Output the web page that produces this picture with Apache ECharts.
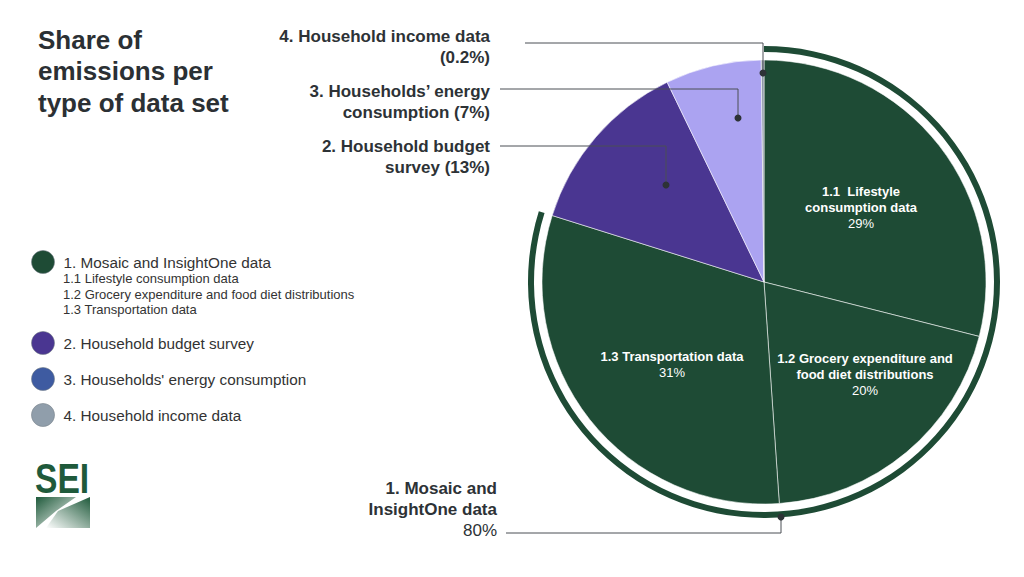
<!DOCTYPE html>
<html>
<head>
<meta charset="utf-8">
<title>Share of emissions per type of data set</title>
<script src="https://cdn.jsdelivr.net/npm/echarts@6/dist/echarts.min.js"></script>
<style>
html, body { margin: 0; padding: 0; background: #fff; }
#chart { width: 1024px; height: 577px; }
</style>
</head>
<body>
<div id="chart"></div>
<script>
// slices, clockwise from 12 o'clock
var sliceNames = ['Lifestyle consumption', 'Grocery expenditure and food diet', 'Transportation', 'Household budget survey', 'Households energy consumption', 'Household income'];
var sliceLabels = [['1.1  Lifestyle', 'consumption data'], ['1.2 Grocery expenditure and', 'food diet distributions'], ['1.3 Transportation data'], ['2. Household budget', 'survey'], ['3. Households\u2019 energy', 'consumption'], ['4. Household income data', '']];
var sliceValues = [29, 20, 31, 13, 7, 0.2];
var sliceColors = ['#1e4b35', '#1e4b35', '#1e4b35', '#4a3691', '#aba3f1', '#8e9aa6'];

var groupLabel = ['1. Mosaic and', 'InsightOne data'];
var groupCount = 3; // first three slices make up group 1

var legendNames = ['1. Mosaic and InsightOne data', '2. Household budget survey', "3. Households' energy consumption", '4. Household income data'];
var legendColors = ['#1e4b35', '#4a3691', '#3e5ba1', '#909eab'];
var legendSub = ['1.1 Lifestyle consumption data', '1.2 Grocery expenditure and food diet distributions', '1.3 Transportation data'];

var font = "'Liberation Sans', Arial, sans-serif";
var textDark = '#2d3236';

// where each label sits, and its leader line (dot first)
var labelSpots = [
    { x: 861, y: 207, align: 'center' },
    { x: 865, y: 374, align: 'center' },
    { x: 672, y: 364, align: 'center' },
    { x: 490, y: 157, align: 'right', line: [[666, 185], [666, 146], [500, 146]] },
    { x: 490, y: 102, align: 'right', line: [[738, 118], [738, 89], [500, 89]] },
    { x: 490, y: 47, align: 'right', line: [[763, 73], [763, 43], [525, 43]] }
];
var groupSpot = { x: 497, y: 509, align: 'right', line: [[781, 517], [781, 533], [506, 533]] };

var dom = document.getElementById('chart');
var chart = echarts.init(dom, null, { renderer: 'svg' });

var groupValue = 0, restValue = 0;
for (var i = 0; i < sliceValues.length; i++) {
    if (i < groupCount) groupValue += sliceValues[i];
    else restValue += sliceValues[i];
}

var pieData = [];
for (var i = 0; i < sliceNames.length; i++) {
    pieData.push({ name: sliceNames[i], value: sliceValues[i], itemStyle: { color: sliceColors[i] } });
}

var legendData = [];
for (var i = 0; i < legendNames.length; i++) {
    legendData.push({ name: legendNames[i], value: 1, itemStyle: { color: legendColors[i] } });
}

function sliceLabel(p) {
    var lines = sliceLabels[p.dataIndex].slice();
    var out = [];
    if (p.dataIndex < groupCount) {
        for (var k = 0; k < lines.length; k++) out.push('{wb|' + lines[k] + '}');
        out.push('{wn|' + p.value + '%}');
    } else {
        var last = lines.length - 1;
        lines[last] = (lines[last] ? lines[last] + ' ' : '') + '(' + p.value + '%)';
        for (var k = 0; k < lines.length; k++) out.push('{db|' + lines[k] + '}');
    }
    return out.join('\n');
}

function placeLabel(spot) {
    return { x: spot.x, y: spot.y, align: spot.align, verticalAlign: 'middle' };
}

var richStyles = {
    wb: { color: '#fff', fontWeight: 'bold', fontSize: 13, lineHeight: 16, align: 'center', fontFamily: font },
    wn: { color: '#fff', fontSize: 13, lineHeight: 16, align: 'center', fontFamily: font },
    db: { color: textDark, fontWeight: 'bold', fontSize: 17, lineHeight: 21, align: 'right', fontFamily: font },
    dn: { color: textDark, fontSize: 17, lineHeight: 21, align: 'right', fontFamily: font }
};

// leader lines and dots drawn on top of the sectors
var leaders = [];
var spots = labelSpots.concat([groupSpot]);
for (var i = 0; i < spots.length; i++) {
    if (!spots[i].line) continue;
    leaders.push({
        type: 'polyline', z: 100,
        shape: { points: spots[i].line },
        style: { stroke: '#4a4f54', lineWidth: 1, fill: null }
    });
    leaders.push({
        type: 'circle', z: 101,
        shape: { cx: spots[i].line[0][0], cy: spots[i].line[0][1], r: 3.5 },
        style: { fill: textDark }
    });
}

var legendBase = {
    orient: 'vertical',
    left: 31,
    padding: 0,
    icon: 'circle',
    itemWidth: 23,
    itemHeight: 23,
    itemStyle: { borderColor: 'rgba(110,120,130,0.55)', borderWidth: 1 },
    textStyle: { fontSize: 15.3, color: '#333', fontFamily: font, padding: [0, 0, 0, 4] }
};

var option = {
    animation: false,
    textStyle: { fontFamily: font },
    title: {
        text: 'Share of\nemissions per\ntype of data set',
        left: 38,
        top: 24,
        padding: 0,
        textStyle: { fontSize: 26, fontWeight: 'bold', lineHeight: 31.5, color: '#2b3034', fontFamily: font }
    },
    legend: [
        echarts.util.merge({ data: [legendNames[0]], top: 250 }, legendBase),
        echarts.util.merge({ data: legendNames.slice(1), top: 331, itemGap: 12 }, legendBase)
    ],
    graphic: [
        {
            type: 'text', left: 63, top: 271,
            style: { text: legendSub.join('\n'), fontSize: 13, lineHeight: 15.5, fill: '#333', font: '13px ' + font }
        },
        {
            type: 'text', x: 35, y: 458, scaleX: 0.8,
            style: { text: 'SEI', fill: '#1f5a3b', font: 'bold 42px ' + font }
        },
        {
            type: 'polygon',
            shape: { points: [[36, 497], [76, 497], [56, 511], [36, 528]] },
            style: { fill: new echarts.graphic.LinearGradient(0, 0, 1, 1, [{ offset: 0, color: '#1f5a3b' }, { offset: 1, color: 'rgba(31,90,59,0)' }]) }
        },
        {
            type: 'polygon',
            shape: { points: [[58, 511], [90, 497], [90, 528], [46, 528]] },
            style: { fill: new echarts.graphic.LinearGradient(1, 0, 0, 1, [{ offset: 0, color: '#1f5a3b' }, { offset: 1, color: 'rgba(31,90,59,0)' }]) }
        }
    ].concat(leaders),
    series: [
        {
            name: 'legend',
            type: 'pie',
            radius: [0, 0],
            center: [764, 282],
            silent: true,
            label: { show: false },
            labelLine: { show: false },
            data: legendData
        },
        {
            name: 'Share of emissions',
            type: 'pie',
            center: [764, 282],
            radius: [0, 222],
            startAngle: 90,
            clockwise: true,
            avoidLabelOverlap: false,
            silent: true,
            itemStyle: { borderColor: 'rgba(255,255,255,0.55)', borderWidth: 1 },
            label: { show: true, formatter: sliceLabel, rich: richStyles },
            labelLine: { show: false },
            labelLayout: function (p) { return placeLabel(labelSpots[p.dataIndex]); },
            data: pieData
        },
        {
            name: 'Group',
            type: 'pie',
            center: [764, 282],
            radius: [230, 236],
            startAngle: 90,
            clockwise: true,
            avoidLabelOverlap: false,
            silent: true,
            itemStyle: { borderWidth: 0 },
            label: {
                show: true,
                formatter: function (p) { return '{db|' + groupLabel.join('}\n{db|') + '}\n{dn|' + p.value + '%}'; },
                rich: richStyles
            },
            labelLine: { show: false },
            labelLayout: function (p) { return p.dataIndex === 0 ? placeLabel(groupSpot) : {}; },
            data: [
                { name: 'group', value: groupValue, itemStyle: { color: '#1e4b35' } },
                { name: 'rest', value: restValue, itemStyle: { color: 'transparent' }, label: { show: false } }
            ]
        }
    ]
};

chart.setOption(option);
window.addEventListener('resize', function () {
    chart.resize();
});
</script>
</body>
</html>
